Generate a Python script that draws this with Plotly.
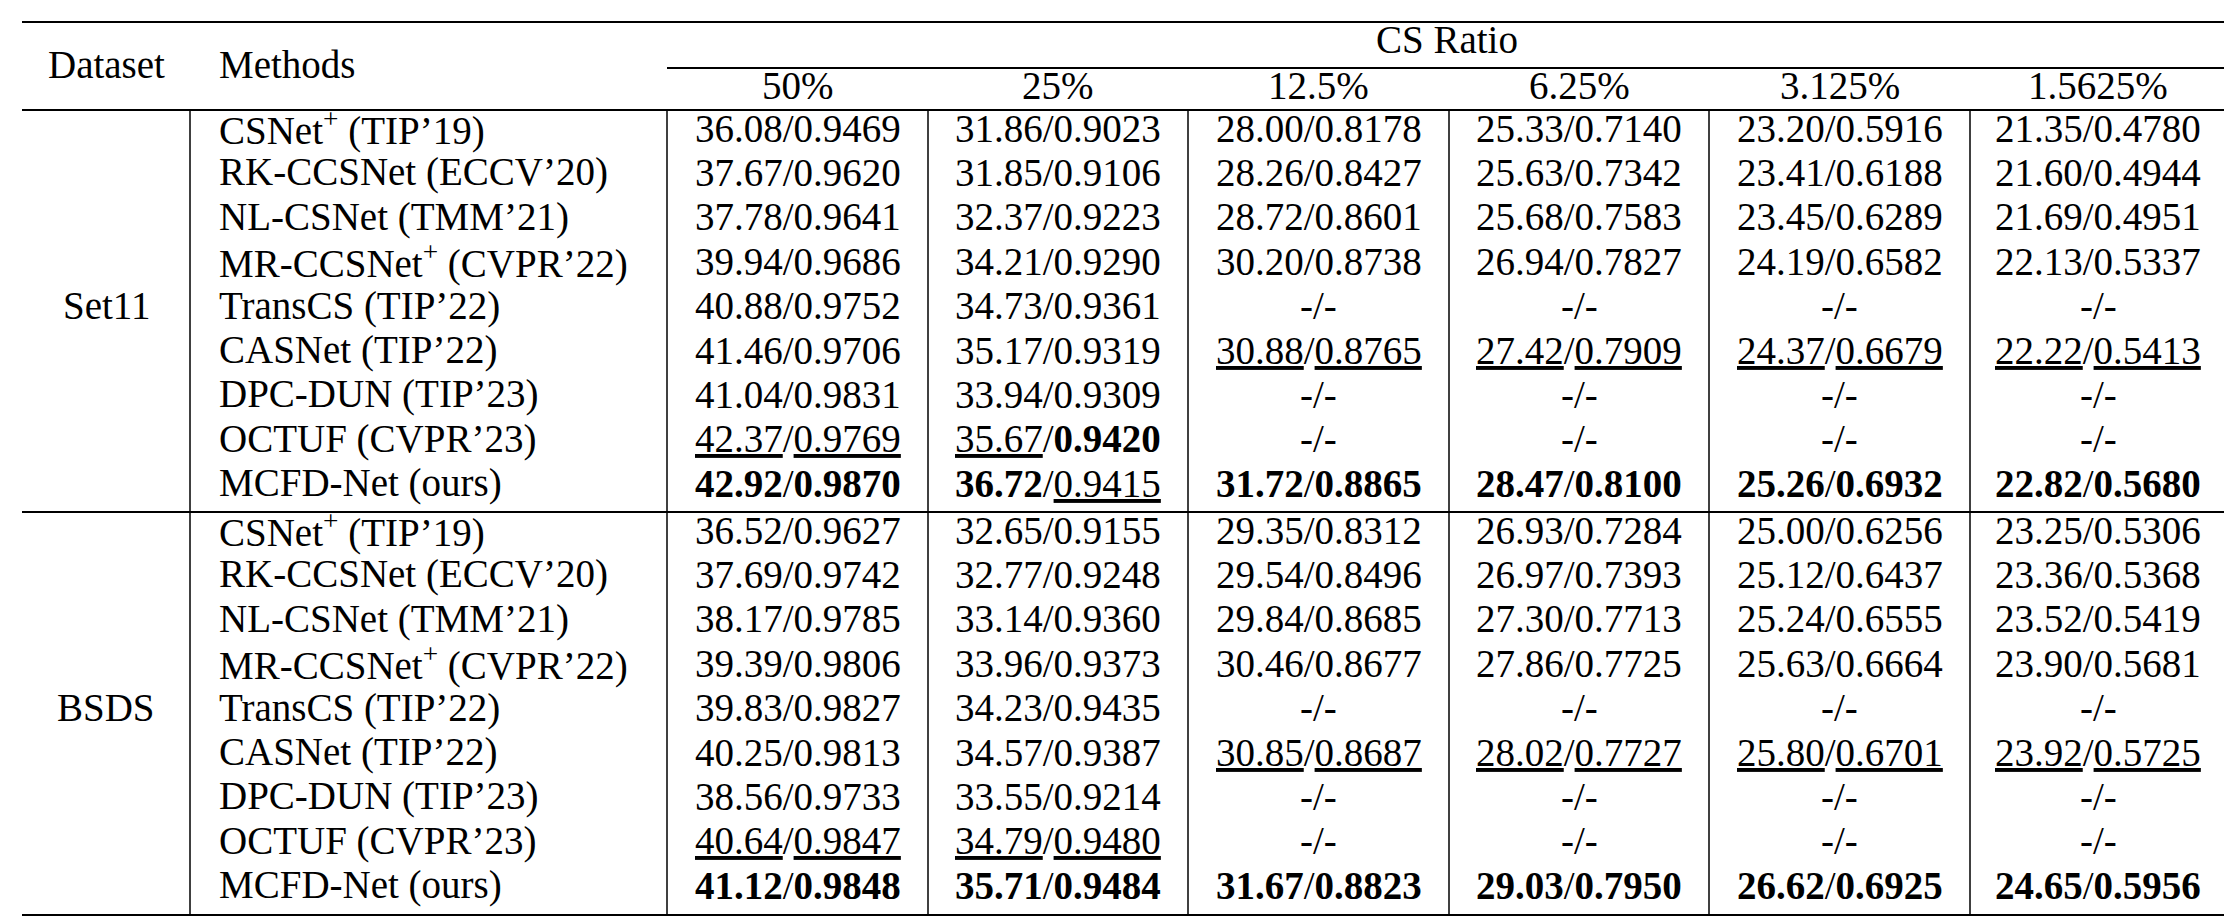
import plotly.graph_objects as go

ratios = ["50%", "25%", "12.5%", "6.25%", "3.125%", "1.5625%"]
datasets = ["Set11", "BSDS"]
methods = ["CSNet<sup>+</sup> (TIP’19)", "RK-CCSNet (ECCV’20)", "NL-CSNet (TMM’21)",
           "MR-CCSNet<sup>+</sup> (CVPR’22)", "TransCS (TIP’22)", "CASNet (TIP’22)",
           "DPC-DUN (TIP’23)", "OCTUF (CVPR’23)", "MCFD-Net (ours)"]
set11 = [
    ["36.08/0.9469", "31.86/0.9023", "28.00/0.8178", "25.33/0.7140", "23.20/0.5916", "21.35/0.4780"],
    ["37.67/0.9620", "31.85/0.9106", "28.26/0.8427", "25.63/0.7342", "23.41/0.6188", "21.60/0.4944"],
    ["37.78/0.9641", "32.37/0.9223", "28.72/0.8601", "25.68/0.7583", "23.45/0.6289", "21.69/0.4951"],
    ["39.94/0.9686", "34.21/0.9290", "30.20/0.8738", "26.94/0.7827", "24.19/0.6582", "22.13/0.5337"],
    ["40.88/0.9752", "34.73/0.9361", "-/-", "-/-", "-/-", "-/-"],
    ["41.46/0.9706", "35.17/0.9319", "30.88/0.8765", "27.42/0.7909", "24.37/0.6679", "22.22/0.5413"],
    ["41.04/0.9831", "33.94/0.9309", "-/-", "-/-", "-/-", "-/-"],
    ["42.37/0.9769", "35.67/0.9420", "-/-", "-/-", "-/-", "-/-"],
    ["42.92/0.9870", "36.72/0.9415", "31.72/0.8865", "28.47/0.8100", "25.26/0.6932", "22.82/0.5680"],
]
set11_style = [
    ["nn"]*6, ["nn"]*6, ["nn"]*6, ["nn"]*6, ["nn"]*6,
    ["nn", "nn", "uu", "uu", "uu", "uu"],
    ["nn"]*6,
    ["uu", "ub", "nn", "nn", "nn", "nn"],
    ["bb", "bu", "bb", "bb", "bb", "bb"],
]
bsds = [
    ["36.52/0.9627", "32.65/0.9155", "29.35/0.8312", "26.93/0.7284", "25.00/0.6256", "23.25/0.5306"],
    ["37.69/0.9742", "32.77/0.9248", "29.54/0.8496", "26.97/0.7393", "25.12/0.6437", "23.36/0.5368"],
    ["38.17/0.9785", "33.14/0.9360", "29.84/0.8685", "27.30/0.7713", "25.24/0.6555", "23.52/0.5419"],
    ["39.39/0.9806", "33.96/0.9373", "30.46/0.8677", "27.86/0.7725", "25.63/0.6664", "23.90/0.5681"],
    ["39.83/0.9827", "34.23/0.9435", "-/-", "-/-", "-/-", "-/-"],
    ["40.25/0.9813", "34.57/0.9387", "30.85/0.8687", "28.02/0.7727", "25.80/0.6701", "23.92/0.5725"],
    ["38.56/0.9733", "33.55/0.9214", "-/-", "-/-", "-/-", "-/-"],
    ["40.64/0.9847", "34.79/0.9480", "-/-", "-/-", "-/-", "-/-"],
    ["41.12/0.9848", "35.71/0.9484", "31.67/0.8823", "29.03/0.7950", "26.62/0.6925", "24.65/0.5956"],
]
bsds_style = [
    ["nn"]*6, ["nn"]*6, ["nn"]*6, ["nn"]*6, ["nn"]*6,
    ["nn", "nn", "uu", "uu", "uu", "uu"],
    ["nn"]*6,
    ["uu", "uu", "nn", "nn", "nn", "nn"],
    ["bb"]*6,
]

FONT = "Times New Roman, Liberation Serif, DejaVu Serif, serif"
FS = 39
W, H = 2232, 922
col_x = [659, 920, 1180, 1441, 1701, 1962, 2218]

def fmt(part, s):
    if s == "b":
        return "<b>" + part + "</b>"
    if s == "u":
        return "<span style='text-decoration:underline'>" + part + "</span>"
    return part

def cell(txt, st):
    if txt == "-/-":
        return txt
    a, b = txt.split("/")
    return fmt(a, st[0]) + "/" + fmt(b, st[1])

fig = go.Figure()
ann = []
shapes = []
def line(x0, y0, x1, y1, w=2):
    shapes.append(dict(type="line", x0=x0, y0=y0, x1=x1, y1=y1, xref="x", yref="y",
                       line=dict(color="black", width=w)))
def text(x, y, t, anchor="center"):
    ann.append(dict(x=x, y=y, text=t, xref="x", yref="y", showarrow=False,
                    xanchor=anchor, yanchor="middle", font=dict(family=FONT, size=FS, color="black")))

line(14, 14, 2218, 14)
line(659, 60, 2218, 60)
line(14, 102, 2218, 102)
line(14, 504, 2218, 504)
line(14, 907, 2218, 907)
for x in [182] + col_x[:-1]:
    line(x, 102, x, 907, 1.5)

text(98, 56, "Dataset")
text(209, 56, "Methods", "left")
text((659 + 2218) / 2, 31, "CS Ratio")
for j, r in enumerate(ratios):
    text((col_x[j] + col_x[j + 1]) / 2, 77, r)

for g, (vals, sty, y0) in enumerate([(set11, set11_style, 120), (bsds, bsds_style, 522)]):
    text(98, y0 + 4 * 44.4, datasets[g])
    for i, m in enumerate(methods):
        y = y0 + i * 44.4
        text(209, y, m, "left")
        for j in range(6):
            text((col_x[j] + col_x[j + 1]) / 2, y, cell(vals[i][j], sty[i][j]))

fig.update_layout(width=W, height=H, margin=dict(l=0, r=0, t=0, b=0),
                  plot_bgcolor="white", paper_bgcolor="white",
                  xaxis=dict(range=[0, W], visible=False, fixedrange=True),
                  yaxis=dict(range=[H, 0], visible=False, fixedrange=True),
                  annotations=ann, shapes=shapes, showlegend=False)
fig.write_html("out.html")
